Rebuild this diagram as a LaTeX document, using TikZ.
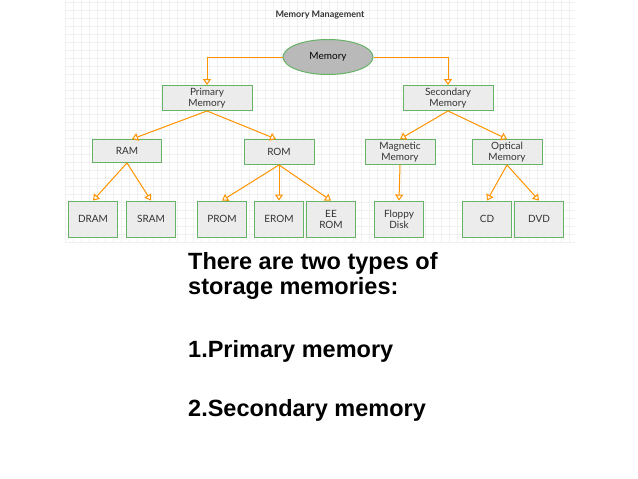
\documentclass[tikz,border=0pt]{standalone}
\usepackage{fontspec}
\setmainfont{Liberation Sans}
\newfontfamily\lato{Lato}
\usetikzlibrary{arrows.meta,shapes.geometric}
\begin{document}
\begin{tikzpicture}[x=1pt,y=-1pt,
  box/.style={draw=green!50!black!60!white,line width=0.9pt,fill=gray!15,align=center,font=\lato\fontsize{10}{11}\selectfont,text=black!80,inner sep=1pt},
  con/.style={draw=orange!85!yellow,line width=1pt,-{Triangle[open,length=6pt,width=8pt]}}]
\useasboundingbox (0,0) rectangle (638,479);
\fill[white] (0,0) rectangle (638,479);
\foreach \x in {65,73,...,575} \draw[gray!12,line width=0.4pt] (\x,0) -- (\x,242);
\foreach \y in {2,10,...,242} \draw[gray!12,line width=0.4pt] (65,\y) -- (575,\y);
\node[font=\lato\bfseries\fontsize{9}{10}\selectfont,text=black!80] (title) at (320,15) {Memory Management};
\node[ellipse,draw=green!50!black!60!white,line width=1pt,fill=gray!55,minimum width=90,minimum height=35,font=\lato\fontsize{10}{11}\selectfont] (mem) at (328,57) {Memory};
\node[box,minimum width=90,minimum height=25] (pri) at (207,98) {Primary\\Memory};
\node[box,minimum width=90,minimum height=25] (sec) at (448,98) {Secondary\\Memory};
\node[box,minimum width=69,minimum height=23] (ram) at (127,151) {RAM};
\node[box,minimum width=70,minimum height=25] (rom) at (279,152) {ROM};
\node[box,minimum width=70,minimum height=25] (mag) at (400,152) {Magnetic\\Memory};
\node[box,minimum width=70,minimum height=25] (opt) at (507,152) {Optical\\Memory};
\foreach \n/\x/\t in {dram/93/DRAM,sram/151/SRAM,prom/222/PROM,erom/279/EROM,eerom/331/{EE\\ROM},flop/399/{Floppy\\Disk},cd/487/CD,dvd/539/DVD}
  \node[box,minimum width=49,minimum height=36] (\n) at (\x,219) {\t};
\draw[con] (mem.west) -| (pri.north);
\draw[con] (mem.east) -| (sec.north);
\draw[con] (pri.south) -- (ram.north east -| 132,140);
\draw[con] (pri.south) -- (rom.north -| 276,140);
\draw[con] (sec.south) -- (mag.north);
\draw[con] (sec.south) -- (opt.north);
\draw[con] (ram.south) -- (dram.north);
\draw[con] (ram.south) -- (sram.north);
\draw[con] (rom.south) -- (prom.north);
\draw[con] (rom.south) -- (erom.north);
\draw[con] (rom.south) -- (eerom.north);
\draw[con] (mag.south) -- (flop.north);
\draw[con] (opt.south) -- (cd.north);
\draw[con] (opt.south) -- (dvd.north);
\node[anchor=north west,align=left,font=\bfseries\fontsize{23.5}{25.5}\selectfont,inner sep=0] (txt) at (188,252)
 {There are two types of\\storage memories:\\[37pt]1.Primary memory\\[34pt]2.Secondary memory};
\end{tikzpicture}
\end{document}
